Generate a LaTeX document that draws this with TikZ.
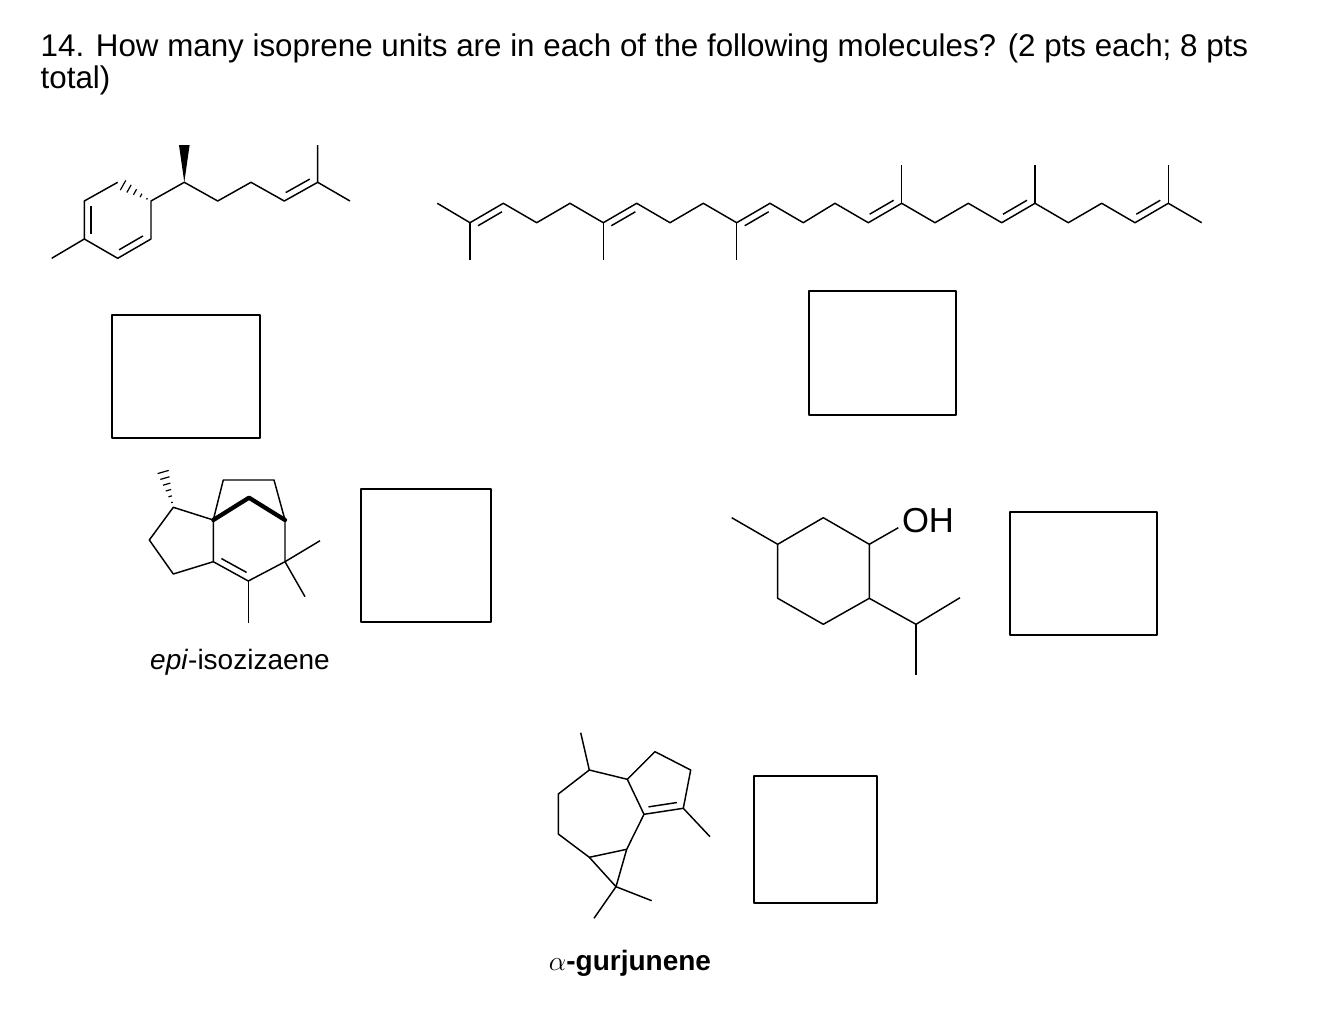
\documentclass[tikz,border=0pt]{standalone}
\usepackage{fontspec}
\setmainfont{Liberation Sans}
\usetikzlibrary{calc}
\begin{document}
\begin{tikzpicture}[x=0.75pt,y=-0.75pt,line width=1.1pt,line join=round,
  bond/.style={line width=1.1pt},
  ansbox/.style={draw,line width=1.4pt},
  lbl/.style={font=\fontsize{19.5}{23}\selectfont,inner sep=0pt}]
\useasboundingbox (0,0) rectangle (1340,1028);
\newcommand{\dbl}[3]{\draw ($(#1)!0.14!(#2)!5pt!#3:(#2)$) -- ($(#2)!0.14!(#1)!5pt!-#3:(#1)$);}
% title
\node[inner sep=0pt,font=\fontsize{23.5}{24}\selectfont,anchor=north west,align=left] (title) at (40,33) {14. How many isoprene units are in each of the following molecules? (2 pts each; 8 pts\\total)};
% ---------- molecule 1
\coordinate (a) at (84.3,201); \coordinate (b) at (117.7,182.3); \coordinate (c) at (151,201);
\coordinate (d) at (151,239); \coordinate (e) at (117.7,258.3); \coordinate (f) at (84.3,239);
\coordinate (fm) at (51.7,258.3); \coordinate (g) at (184.3,182.3); \coordinate (gw) at (184.3,145);
\coordinate (h) at (217.7,201); \coordinate (i) at (251,182.3); \coordinate (j) at (284.3,201);
\coordinate (k) at (317.7,182.3); \coordinate (k1) at (317.7,145); \coordinate (k2) at (350,201);
\draw (b) -- (a) -- (f) -- (e) -- (d) -- (c) -- (g) -- (h) -- (i) -- (j) -- (k) -- (k1);
\draw (k) -- (k2); \draw (f) -- (fm);
\dbl{a}{f}{90} \dbl{d}{e}{-90} \dbl{j}{k}{90}
\foreach \t in {0.12,0.3,0.48,0.66,0.84}{
  \draw[line width=0.9pt] ($(c)!\t!(b)!{\t*5pt}!90:(b)$) -- ($(c)!\t!(b)!{\t*5pt}!-90:(b)$);}
\fill (g) -- ($(gw)!4pt!90:(g)$) -- ($(gw)!4pt!-90:(g)$) -- cycle;
% ---------- long chain
\coordinate (s0) at (437.3,203.3);
\draw (s0) -- (470,222.7) coordinate (s1) -- (503.3,203.3) coordinate (s2) -- (536.7,222.7) -- (570,203.3)
 -- (603.3,222.7) coordinate (s3) -- (636.7,203.3) coordinate (s4) -- (670,222.7) -- (703.3,203.3)
 -- (736.7,222.7) coordinate (s5) -- (770,203.3) coordinate (s6) -- (803.3,222.7) -- (835,203.3)
 -- (868.3,222.7) coordinate (s7) -- (901.7,203.3) coordinate (s8) -- (935,222.7) -- (968.3,203.3)
 -- (1001.7,222.7) coordinate (s9) -- (1035,203.3) coordinate (s10) -- (1068.3,222.7) -- (1101.7,203.3)
 -- (1135,222.7) coordinate (s11) -- (1168.3,203.3) coordinate (s12) -- (1201.7,222.7) coordinate (s13);
\draw (s1) -- (470,260); \draw (s3) -- (603.3,260); \draw (s5) -- (736.7,260);
\draw (s8) -- (901.7,165); \draw (s10) -- (1035,165); \draw (s12) -- (1168.3,165);
\dbl{s1}{s2}{-90} \dbl{s3}{s4}{-90} \dbl{s5}{s6}{-90}
\dbl{s7}{s8}{90} \dbl{s9}{s10}{90} \dbl{s11}{s12}{90}
% ---------- boxes
\draw[ansbox] (112,315) rectangle (260,438) node[pos=.5] (box1) {};
\draw[ansbox] (809,291) rectangle (956,415) node[pos=.5] (box2) {};
\draw[ansbox] (361,489) rectangle (491,622) node[pos=.5] (box3) {};
\draw[ansbox] (1010,512) rectangle (1157,635) node[pos=.5] (box4) {};
\draw[ansbox] (754,776) rectangle (877,903) node[pos=.5] (box5) {};
% ---------- epi-isozizaene
\coordinate (p1) at (173.3,507.3); \coordinate (ph) at (161.7,466.7);
\coordinate (p2) at (149.3,540); \coordinate (p3) at (173.3,574); \coordinate (p4) at (213.3,561.7);
\coordinate (p5) at (213.3,520); \coordinate (p6) at (248.3,581); \coordinate (p6m) at (248.3,622.7);
\coordinate (p7) at (285,561.7); \coordinate (p7a) at (320,540.7); \coordinate (p7b) at (305,596.7);
\coordinate (p8) at (285,520); \coordinate (q1) at (223.3,480); \coordinate (q2) at (274,480);
\coordinate (qt) at (249,497.7);
\draw (p5) -- (p1) -- (p2) -- (p3) -- (p4) -- (p5) -- (q1) -- (q2) -- (p8) -- (p7) -- (p6) -- (p4);
\draw (p6) -- (p6m); \draw (p7) -- (p7a); \draw (p7) -- (p7b);
\dbl{p4}{p6}{90}
\foreach \t in {0.12,0.27,0.42,0.57,0.72,0.87}{
  \draw[line width=0.9pt] ($(p1)!\t!(ph)!{\t*5pt}!90:(ph)$) -- ($(p1)!\t!(ph)!{\t*5pt}!-90:(ph)$);}
\draw[line width=3.2pt,line cap=round] (p5) -- (qt) -- (p8);
\node[inner sep=0pt,font=\fontsize{21}{24}\selectfont] (epi) at (240,662) {\textit{epi}-isozizaene};
% ---------- menthol
\coordinate (m0) at (731.7,517.7); \coordinate (m1) at (777.7,544.3); \coordinate (m2) at (823.3,517.7);
\coordinate (m3) at (869.3,544.3); \coordinate (m4) at (869.3,598.3); \coordinate (m5) at (823.3,624.3);
\coordinate (m6) at (777.7,598.3); \coordinate (mi) at (916,624.3);
\node[inner sep=0pt,font=\fontsize{26}{28}\selectfont] (oh) at (928,521) {OH};
\draw (m0) -- (m1) -- (m2) -- (m3) -- (m4) -- (m5) -- (m6) -- (m1);
\draw (m3) -- (898.3,527.7);
\draw (m4) -- (mi) -- (960,597.7); \draw (mi) -- (916,675);
% ---------- alpha-gurjunene
\coordinate (g0) at (580.7,732.7); \coordinate (g1) at (589.3,770); \coordinate (g2) at (627.3,779.3);
\coordinate (g3) at (655,751.7); \coordinate (g4) at (690.7,770); \coordinate (g5) at (683.3,808.3);
\coordinate (g6) at (644,814.3); \coordinate (g5m) at (710,836.7); \coordinate (g7) at (626.7,849.3);
\coordinate (g8) at (589.3,857.3); \coordinate (g9) at (558.3,834); \coordinate (g10) at (558.3,794);
\coordinate (g11) at (616,886.7);
\draw (g0) -- (g1) -- (g2) -- (g3) -- (g4) -- (g5) -- (g6) -- (g2);
\draw (g6) -- (g7) -- (g8) -- (g9) -- (g10) -- (g1);
\draw (g7) -- (g11) -- (g8); \draw (g5) -- (g5m);
\draw (g11) -- (651.7,900.7); \draw (g11) -- (594,918.3);
\dbl{g6}{g5}{90}
\node[inner sep=0pt,font=\fontsize{21}{24}\selectfont\bfseries] (gur) at (630,963) {$\alpha$-gurjunene};
\end{tikzpicture}
\end{document}
